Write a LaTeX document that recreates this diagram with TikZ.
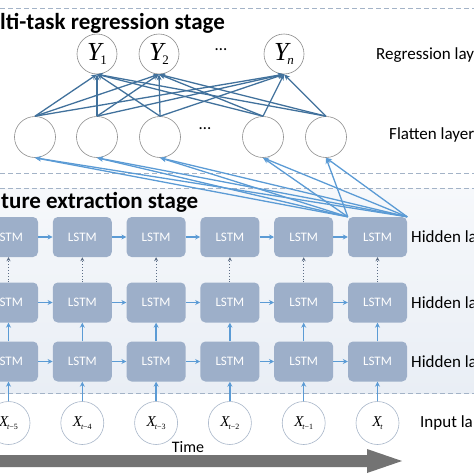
\documentclass[tikz,border=0pt]{standalone}
\usepackage{fontspec}
\setmainfont{Carlito}
\newfontfamily\tms{Liberation Serif}
\usetikzlibrary{arrows.meta}
\definecolor{netblue}{HTML}{41719C}
\definecolor{lblue}{HTML}{5B9BD5}
\definecolor{boxfill}{HTML}{9DAFC9}
\definecolor{dashc}{HTML}{A3B3C7}
\definecolor{dotc}{HTML}{5C6D86}
\definecolor{circc}{HTML}{8C8C8C}
\definecolor{incirc}{HTML}{A8B6C9}
\definecolor{timeg}{HTML}{737373}
\definecolor{bgtop}{HTML}{F6F8FB}
\definecolor{bgbot}{HTML}{E9EEF5}
\newcommand\ylab[1]{{\tms\fontsize{26}{26}\selectfont\itshape Y}\kern-1pt\raisebox{-4pt}{\tms\fontsize{13}{13}\selectfont #1}}
\newcommand\xlab[1]{{\tms\fontsize{15}{15}\selectfont\itshape X}\kern-1pt\raisebox{-3pt}{\tms\fontsize{8}{8}\selectfont\itshape t\upshape #1}}
\begin{document}
\begin{tikzpicture}[x=1pt,y=-1pt,
  lstmbox/.style={rectangle, rounded corners=5pt, fill=boxfill, minimum width=59pt, minimum height=40pt, text=white, font=\fontsize{13}{13}\selectfont, inner sep=0pt},
  ycirc/.style={circle, draw=circc, line width=0.6pt, fill=white, minimum size=40pt, inner sep=0pt},
  fcirc/.style={circle, draw=circc, line width=0.6pt, fill=white, minimum size=41pt, inner sep=0pt},
  xcirc/.style={circle, draw=incirc, line width=0.6pt, fill=white, minimum size=43pt, inner sep=0pt},
  dashline/.style={draw=dashc, dash pattern=on 5pt off 3pt, line width=0.8pt},
  netarrow/.style={draw=netblue, line width=1.3pt, -{Stealth[length=6pt,width=5pt]}},
  featarrow/.style={draw=lblue, line width=1.3pt, -{Stealth[length=6pt,width=5pt]}},
  harrow/.style={draw=lblue, line width=1.5pt, -{Stealth[length=5pt,width=5pt]}},
  dotarrow/.style={draw=dotc, line width=0.9pt, dotted, -{Stealth[length=4pt,width=4pt]}},
  stagetitle/.style={font=\bfseries\fontsize{23}{23}\selectfont, anchor=base west, inner sep=0pt},
  layerlabel/.style={font=\fontsize{17}{17}\selectfont, anchor=west, inner sep=0pt},
  dotslab/.style={font=\fontsize{17}{17}\selectfont, inner sep=0pt}]
\useasboundingbox (0,0) rectangle (474,474);
\clip (0,0) rectangle (474,474);
% background of feature stage
\shade[top color=bgtop, bottom color=bgbot] (0,188) rectangle (474,393);
% dashed separators
\draw[dashline] (0,8) -- (474,8);
\draw[dashline] (0,173) -- (474,173);
\draw[dashline] (0,188) -- (474,188);
% titles
\node[stagetitle] (t1) at (0,29) {lti-task regression stage};
\node[stagetitle] (t2) at (1,208) {ture extraction stage};
% regression layer
\node[ycirc] (y1) at (97,54) {\ylab{1}};
\node[ycirc] (y2) at (159,54) {\ylab{2}};
\node[ycirc] (yn) at (284,54) {\ylab{\itshape n}};
\node[dotslab] (ydots) at (221,50) {…};
% flatten layer
\node[fcirc] (f1) at (35,137) {};
\node[fcirc] (f2) at (97,137) {};
\node[fcirc] (f3) at (160,137) {};
\node[fcirc] (f4) at (263,137) {};
\node[fcirc] (f5) at (326,137) {};
\node[dotslab] (fdots) at (205,129) {…};
% layer labels
\node[layerlabel] (lr) at (376,55) {Regression lay};
\node[layerlabel] (lf) at (389,135) {Flatten layer};
% LSTM grid
\foreach \i/\x in {1/8.5,2/82.3,3/156.1,4/229.9,5/303.7,6/377.5}{
  \node[lstmbox] (a\i) at (\x,237) {LSTM};
  \node[lstmbox] (b\i) at (\x,302.5) {LSTM};
  \node[lstmbox] (c\i) at (\x,361.5) {LSTM};
}
\node[layerlabel] (h1) at (411,237) {Hidden la};
\node[layerlabel] (h2) at (411,302.5) {Hidden la};
\node[layerlabel] (h3) at (411,361.5) {Hidden la};
% input dashed line
\draw[dashline] (0,393) -- (474,393);
% inputs
\node[xcirc] (x1) at (8.5,423) {\xlab{−5}};
\node[xcirc] (x2) at (82.3,423) {\xlab{−4}};
\node[xcirc] (x3) at (156.1,423) {\xlab{−3}};
\node[xcirc] (x4) at (229.9,423) {\xlab{−2}};
\node[xcirc] (x5) at (303.7,423) {\xlab{−1}};
\node[xcirc] (x6) at (377.5,423) {\xlab{}};
\node[layerlabel] (li) at (420,423) {Input la};
% horizontal arrows
\foreach \i/\j in {1/2,2/3,3/4,4/5,5/6}{
  \draw[harrow] (a\i.east) -- (a\j.west);
  \draw[harrow] (b\i.east) -- (b\j.west);
  \draw[harrow] (c\i.east) -- (c\j.west);
}
% vertical arrows
\foreach \i in {1,...,6}{
  \draw[dotarrow] (b\i.north) -- (a\i.south);
  \draw[harrow] (c\i.north) -- (b\i.south);
  \draw[harrow] (x\i.north) -- (c\i.south);
}
% LSTM to flatten
\foreach \f in {f1,f2,f3,f4,f5}{
  \draw[featarrow] (a6.north west) -- (\f.south);
  \draw[featarrow] (a6.north east) -- (\f.south);
}
% flatten to regression
\foreach \f in {f1,f2,f3,f4,f5}{
  \foreach \y in {y1,y2,yn}{
    \draw[netarrow] (\f.north) -- (\y.south);
  }
}
% time arrow
\fill[timeg] (-2,455) -- (367,455) -- (367,449) -- (402,461) -- (367,473) -- (367,467) -- (-2,467) -- cycle;
\node[font=\fontsize{16}{16}\selectfont, inner sep=0pt] (time) at (188,447) {Time};
\end{tikzpicture}
\end{document}
